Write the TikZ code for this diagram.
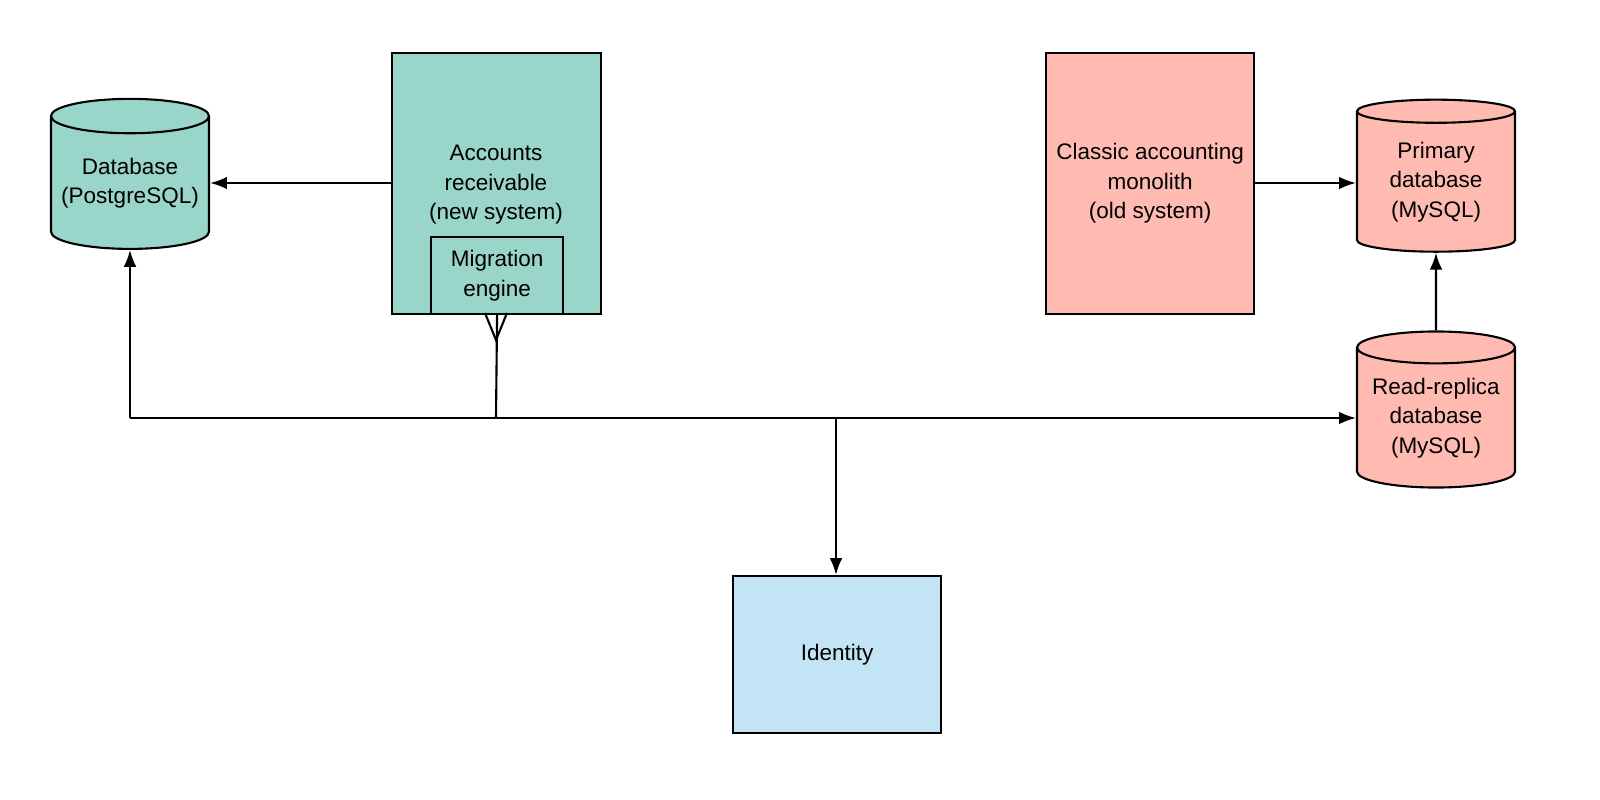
\documentclass[tikz,border=0pt]{standalone}
\usepackage{fontspec}
\setmainfont{Liberation Sans}
\usetikzlibrary{shapes.geometric,arrows.meta}
\definecolor{teal}{HTML}{9AD5CA}
\definecolor{salmon}{HTML}{FFBBB1}
\definecolor{lblue}{HTML}{C2E4F5}
\begin{document}
\begin{tikzpicture}[x=0.025cm,y=-0.025cm,
  box/.style={draw,line width=1.5pt,align=center,font=\fontsize{16}{21}\selectfont,anchor=north west,inner sep=0pt},
  db/.style={draw,line width=1.5pt,cylinder,shape border rotate=90,aspect=0.25,align=center,font=\fontsize{16}{21}\selectfont,minimum width=3.95cm,inner sep=0pt},
  arr/.style={line width=1.5pt,-{Latex[length=12pt,width=9pt]}},
  ln/.style={line width=1.5pt}]
\useasboundingbox (0,0) rectangle (1600,800);
\node[box,fill=teal,minimum width=5.22cm,minimum height=6.52cm] (ar) at (391,52) {};
\node[font=\fontsize{16}{21}\selectfont,align=center] (art) at (496,185) {Accounts\\receivable\\(new system)};
\node[box,fill=teal,minimum width=3.3cm,minimum height=1.92cm] (mig) at (430,236) {Migration\\engine};
\node[box,fill=salmon,minimum width=5.2cm,minimum height=6.52cm] (cl) at (1045,52) {Classic accounting\\monolith\\(old system)};
\node[box,fill=lblue,minimum width=5.2cm,minimum height=3.92cm] (id) at (732,575) {Identity};
\node[db,fill=teal,minimum height=3.75cm] (pg) at (130,183) {Database\\(PostgreSQL)};
\node[db,fill=salmon,minimum height=3.8cm] (pr) at (1436,182) {Primary\\database\\(MySQL)};
\node[db,fill=salmon,minimum height=3.9cm] (rr) at (1436,418) {Read-replica\\database\\(MySQL)};
\coordinate (j1) at (130,418);
\coordinate (j2) at (496,418);
\coordinate (j3) at (836,418);
\coordinate (cf) at (496,340);
\draw[arr] (ar.west |- 0,183) -- (pg.east |- 0,183);
\draw[arr] (cl.east |- 0,183) -- (pr.west |- 0,183);
\draw[arr] (rr.north) -- (pr.south);
\draw[ln] (j2) -- (j1);
\draw[arr] (j1) -- (pg.south);
\draw[arr] (j2) -- (rr.west |- j2);
\draw[arr] (j3) -- (id.north -| j3);
\draw[ln] (j2) -- (mig.south);
\draw[ln] (485,313) -- (cf) -- (507,313);
\end{tikzpicture}
\end{document}
